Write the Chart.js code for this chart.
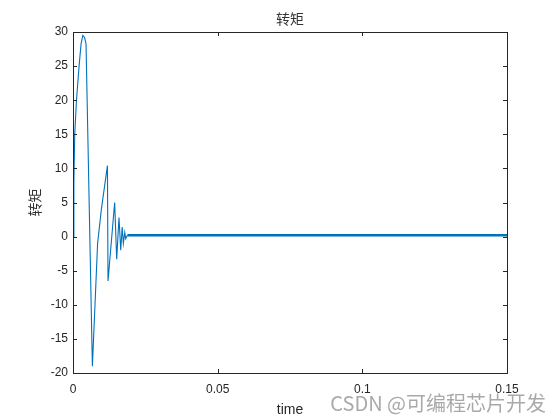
<!DOCTYPE html>
<html>
<head>
<meta charset="utf-8">
<script src="https://cdn.jsdelivr.net/npm/chart.js@4.4.1/dist/chart.umd.min.js"></script>
<style>
  html, body { margin: 0; padding: 0; background: #fff; }
  #wrap { width: 560px; height: 420px; }
</style>
</head>
<body>
<div id="wrap"><canvas id="myChart" width="560" height="420"></canvas></div>
<script>
// transient part (time in s, torque)
let time = [0, 0.0003, 0.0006, 0.0012, 0.0021, 0.0028, 0.0034, 0.0040, 0.0045, 0.0067,
	0.0085, 0.0098, 0.0119, 0.0121, 0.0144, 0.0151, 0.0159, 0.0165, 0.0170, 0.0174,
	0.0179, 0.0182, 0.0188];
let torque = [0, 8, 15, 20, 25, 28.3, 29.5, 29.2, 28.3, -19,
	-1, 4, 10.4, -6.5, 5.0, -3.3, 2.8, -2, 1.4, -1.0,
	0.6, -0.3, 0.2];
// steady state, drawn a bit thicker (ripple)
let steadyTime = [0.0188, 0.05, 0.1, 0.15];
let steadyTorque = [0.2, 0.2, 0.2, 0.2];

let xTicks = [0, 0.05, 0.1, 0.15];
let yTicks = [-20, -15, -10, -5, 0, 5, 10, 15, 20, 25, 30];

let lineColor = '#0072BD';
let textColor = '#262626';
let tickFont = { family: 'Liberation Sans, Arial, sans-serif', size: 12 };

let toXY = (xs, ys) => xs.map((x, i) => ({ x: x, y: ys[i] }));

// box + inward ticks, title, axis labels and watermark
let matlabAxes = {
	id: 'matlabAxes',
	afterDraw(chart) {
		let c = chart.ctx;
		let a = chart.chartArea;
		let xs = chart.scales.x;
		let ys = chart.scales.y;
		c.save();
		c.strokeStyle = textColor;
		c.lineWidth = 1;
		c.beginPath();
		xTicks.forEach(v => {
			let px = Math.round(xs.getPixelForValue(v)) + 0.5;
			c.moveTo(px, a.bottom); c.lineTo(px, a.bottom - 4);
			c.moveTo(px, a.top); c.lineTo(px, a.top + 4);
		});
		yTicks.forEach(v => {
			let py = Math.round(ys.getPixelForValue(v)) + 0.5;
			c.moveTo(a.left, py); c.lineTo(a.left + 4, py);
			c.moveTo(a.right, py); c.lineTo(a.right - 4, py);
		});
		c.stroke();
		c.strokeRect(Math.round(a.left) + 0.5, Math.round(a.top) + 0.5,
			Math.round(a.right - a.left), Math.round(a.bottom - a.top));

		let cx = (a.left + a.right) / 2;
		let cy = (a.top + a.bottom) / 2;
		c.fillStyle = '#333';
		c.textAlign = 'center';
		c.textBaseline = 'middle';
		c.font = '14px "Noto Sans CJK SC", sans-serif';
		c.fillText('转矩', cx, 19);

		c.save();
		c.translate(35, cy);
		c.rotate(-Math.PI / 2);
		c.fillText('转矩', 0, 0);
		c.restore();

		c.fillStyle = textColor;
		c.font = '14px "Liberation Sans", Arial, sans-serif';
		c.fillText('time', cx, 410);

		c.fillStyle = 'rgba(140,140,140,0.75)';
		c.textAlign = 'right';
		c.font = '20px "Noto Sans CJK SC", sans-serif';
		c.fillText('CSDN @可编程芯片开发', 546, 403);
		c.restore();
	}
};

let ctx = document.getElementById('myChart').getContext('2d');

let myChart = new Chart(ctx, {
	type: 'line',
	data: {
		datasets: [{
			data: toXY(time, torque),
			borderColor: lineColor,
			borderWidth: 1.1,
			pointRadius: 0,
			tension: 0
		}, {
			data: toXY(steadyTime, steadyTorque),
			borderColor: lineColor,
			borderWidth: 2.4,
			pointRadius: 0,
			tension: 0
		}]
	},
	options: {
		responsive: false,
		animation: false,
		events: [],
		layout: {
			padding: { top: 32, right: 53, bottom: 0, left: 0 }
		},
		plugins: {
			legend: { display: false },
			title: { display: false },
			tooltip: { enabled: false }
		},
		scales: {
			x: {
				type: 'linear',
				min: 0,
				max: 0.15,
				grid: { display: false, drawTicks: false },
				border: { display: false },
				ticks: {
					stepSize: 0.05,
					autoSkip: false,
					maxRotation: 0,
					padding: 9,
					color: textColor,
					font: tickFont,
					callback: (v) => String(Number(v.toFixed(2)))
				},
				afterFit: (scale) => { scale.height = 47; }
			},
			y: {
				min: -20,
				max: 30,
				grid: { display: false, drawTicks: false },
				border: { display: false },
				ticks: {
					stepSize: 5,
					autoSkip: false,
					padding: 5,
					color: textColor,
					font: tickFont
				},
				afterFit: (scale) => { scale.width = 73; }
			}
		}
	},
	plugins: [matlabAxes]
});
</script>
</body>
</html>
